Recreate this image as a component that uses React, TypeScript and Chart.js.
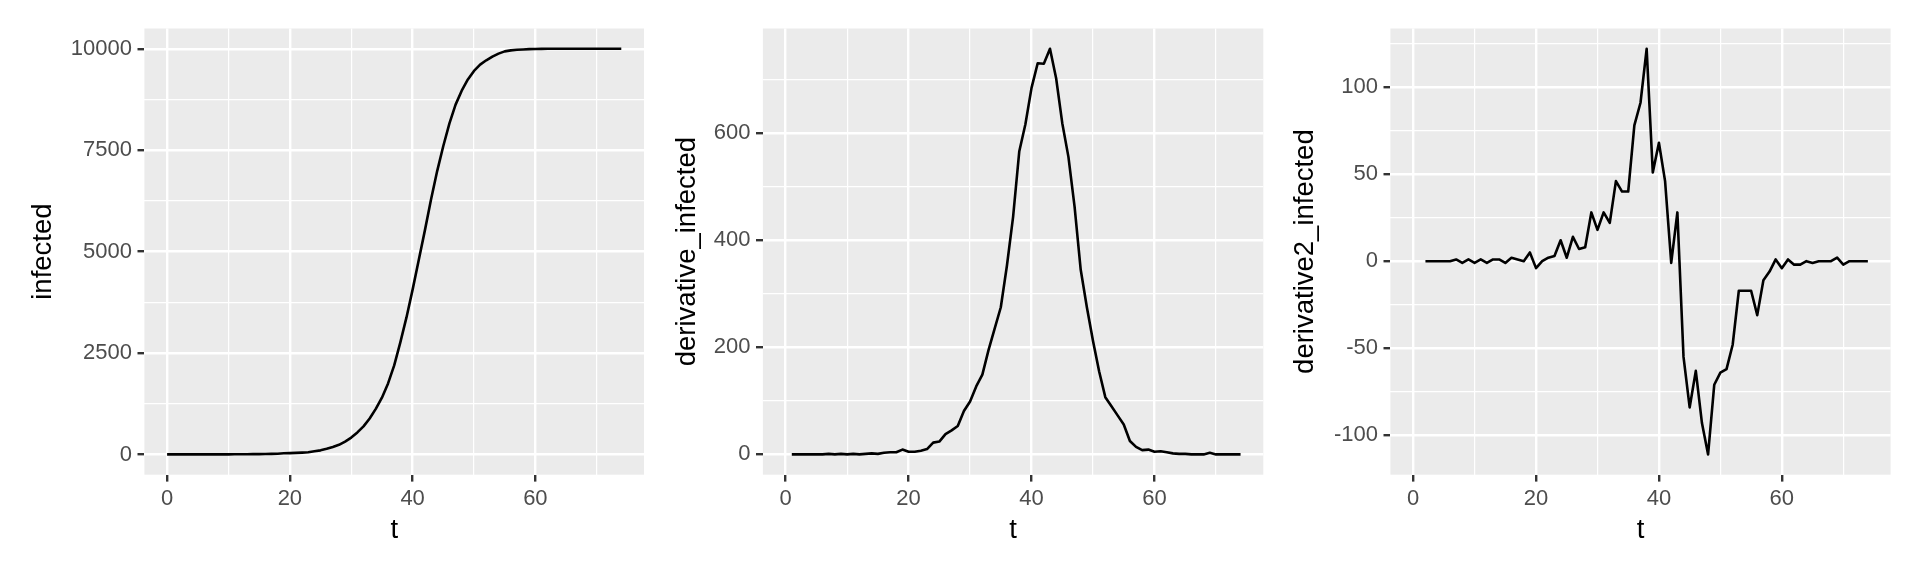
import React, { useEffect, useRef } from 'react';
import { Chart, registerables } from 'chart.js';

Chart.register(...registerables);

// ---------- data ----------
const t = [
  0, 1, 2, 3, 4, 5, 6, 7, 8, 9, 10, 11, 12, 13, 14, 15, 16, 17, 18, 19,
  20, 21, 22, 23, 24, 25, 26, 27, 28, 29, 30, 31, 32, 33, 34, 35, 36, 37, 38, 39,
  40, 41, 42, 43, 44, 45, 46, 47, 48, 49, 50, 51, 52, 53, 54, 55, 56, 57, 58, 59,
  60, 61, 62, 63, 64, 65, 66, 67, 68, 69, 70, 71, 72, 73, 74,
];

// t = 0..74
const infected = [
  1, 1, 1, 1, 1, 1, 1, 2, 2, 3, 3, 4, 4, 5, 7, 8, 11, 15, 19, 28,
  33, 38, 45, 55, 77, 101, 139, 184, 237, 318, 417, 544, 693, 888, 1123, 1398, 1751, 2195, 2761, 3378,
  4063, 4794, 5524, 6282, 6985, 7604, 8160, 8623, 8968, 9243, 9455, 9610, 9717, 9807, 9880, 9936, 9961, 9975, 9983, 9991,
  9995, 9998, 9999, 10000, 10000, 10000, 10000, 10000, 10000, 10000, 10000, 10000, 10000, 10000, 10000,
];

// t = 1..74
const derivativeInfected = [
  0, 0, 0, 0, 0, 0, 1, 0, 1, 0,
  1, 0, 1, 2, 1, 3, 4, 4, 9, 5,
  5, 7, 10, 22, 24, 38, 45, 53, 81, 99,
  127, 149, 195, 235, 275, 353, 444, 566, 617, 685,
  731, 730, 758, 703, 619, 556, 463, 345, 275, 212,
  155, 107, 90, 73, 56, 25, 14, 8, 9, 5,
  6, 4, 2, 1, 1, 0, 0, 0, 3, 0,
  0, 0, 0, 0,
];

// t = 2..74
const derivative2Infected = [
  0, 0, 0, 0, 0, 1, -1, 1, -1, 1,
  -1, 1, 1, -1, 2, 1, 0, 5, -4, 0,
  2, 3, 12, 2, 14, 7, 8, 28, 18, 28,
  22, 46, 40, 40, 78, 91, 122, 51, 68, 46,
  -1, 28, -55, -84, -63, -93, -111, -71, -64, -62,
  -48, -17, -17, -17, -31, -11, -6, 1, -4, 1,
  -2, -2, 0, -1, 0, 0, 0, 2, -2, 0,
  0, 0, 0,
];

const X_MAJOR = [0, 20, 40, 60];
const X_MINOR = [10, 30, 50, 70];

const Y1_MAJOR = [0, 2500, 5000, 7500, 10000];
const Y1_MINOR = [1250, 3750, 6250, 8750];
const Y2_MAJOR = [0, 200, 400, 600];
const Y2_MINOR = [100, 300, 500, 700];
const Y3_MAJOR = [-100, -50, 0, 50, 100];
const Y3_MINOR = [-75, -25, 25, 75, 125];

// ---------- styling ----------
const FONT = "'Liberation Sans', Arial, Helvetica, sans-serif";
const TICK_FONT_SIZE = 22;
const TITLE_FONT_SIZE = 27.5;
const MAJOR_W = 2.4;
const MINOR_W = 1.2;
const LINE_W = 2.6;
const TICK_LEN = 6.9;
const CANVAS_H = 576;
const PLOT_TOP = 28.5;
const X_AXIS_H = 101.3;

const bgPlugin = {
  id: 'panelBg',
  beforeDraw(chart: any) {
    const { ctx, chartArea } = chart;
    if (!chartArea) return;
    ctx.save();
    ctx.fillStyle = '#EBEBEB';
    ctx.fillRect(chartArea.left, chartArea.top, chartArea.right - chartArea.left, chartArea.bottom - chartArea.top);
    ctx.restore();
  },
};

function expand(vals: number[]) {
  const lo = Math.min(...vals);
  const hi = Math.max(...vals);
  const pad = (hi - lo) * 0.05;
  return [lo - pad, hi + pad];
}

type PanelProps = {
  xs: number[];
  ys: number[];
  yTitle: string;
  yMajor: number[];
  yMinor: number[];
  left: number;
  width: number;
  yAxisW: number;
  rightPad: number;
  titlePad: number;
};

function Panel(p: PanelProps) {
  const ref = useRef<HTMLCanvasElement | null>(null);

  useEffect(() => {
    if (!ref.current) return;
    const [xMin, xMax] = expand(t);
    const [yMin, yMax] = expand(p.ys);
    const xAll = [...X_MAJOR, ...X_MINOR].sort((a, b) => a - b);
    const yAll = [...p.yMajor, ...p.yMinor].sort((a, b) => a - b);
    const isMajorX = (v: number) => X_MAJOR.includes(v);
    const isMajorY = (v: number) => p.yMajor.includes(v);

    const chart = new Chart(ref.current, {
      type: 'line',
      data: {
        datasets: [
          {
            data: p.xs.map((x, i) => ({ x, y: p.ys[i] })),
            borderColor: '#000000',
            borderWidth: LINE_W,
            pointRadius: 0,
            pointHoverRadius: 0,
            tension: 0,
            fill: false,
            borderJoinStyle: 'round',
            borderCapStyle: 'butt',
          },
        ],
      },
      options: {
        animation: false,
        responsive: false,
        maintainAspectRatio: false,
        devicePixelRatio: 1,
        layout: { padding: { top: PLOT_TOP, right: p.rightPad, bottom: 0, left: 0 } },
        plugins: { legend: { display: false }, tooltip: { enabled: false } },
        events: [],
        scales: {
          x: {
            type: 'linear',
            min: xMin,
            max: xMax,
            bounds: 'data',
            afterBuildTicks: (s: any) => {
              s.ticks = xAll.map((value) => ({ value }));
            },
            afterFit: (s: any) => {
              s.height = X_AXIS_H;
            },
            ticks: {
              autoSkip: false,
              maxRotation: 0,
              minRotation: 0,
              padding: 4.2,
              color: '#4D4D4D',
              font: { family: FONT, size: TICK_FONT_SIZE, lineHeight: 1.2 },
              callback: (v: any) => (isMajorX(Number(v)) ? String(v) : ''),
            },
            grid: {
              color: '#FFFFFF',
              lineWidth: (c: any) => (isMajorX(c.tick?.value) ? MAJOR_W : MINOR_W),
              drawTicks: true,
              tickLength: TICK_LEN,
              tickWidth: MAJOR_W,
              tickColor: (c: any) => (isMajorX(c.tick?.value) ? '#333333' : 'rgba(0,0,0,0)'),
            },
            border: { display: false },
            title: {
              display: true,
              text: 't',
              color: '#000000',
              font: { family: FONT, size: TITLE_FONT_SIZE, lineHeight: 1.2 },
              padding: { top: 0, bottom: 29 },
            },
          },
          y: {
            type: 'linear',
            min: yMin,
            max: yMax,
            bounds: 'data',
            afterBuildTicks: (s: any) => {
              s.ticks = yAll.map((value) => ({ value }));
            },
            afterFit: (s: any) => {
              s.width = p.yAxisW;
            },
            ticks: {
              autoSkip: false,
              padding: 5.5,
              color: '#4D4D4D',
              font: { family: FONT, size: TICK_FONT_SIZE, lineHeight: 1.2 },
              callback: (v: any) => (isMajorY(Number(v)) ? String(v) : ''),
            },
            grid: {
              color: '#FFFFFF',
              lineWidth: (c: any) => (isMajorY(c.tick?.value) ? MAJOR_W : MINOR_W),
              drawTicks: true,
              tickLength: TICK_LEN,
              tickWidth: MAJOR_W,
              tickColor: (c: any) => (isMajorY(c.tick?.value) ? '#333333' : 'rgba(0,0,0,0)'),
            },
            border: { display: false },
            title: {
              display: true,
              text: p.yTitle,
              color: '#000000',
              font: { family: FONT, size: TITLE_FONT_SIZE, lineHeight: 1.2 },
              padding: { top: p.titlePad, bottom: 0 },
            },
          },
        },
      },
      plugins: [bgPlugin],
    } as any);

    return () => chart.destroy();
  }, []);

  return (
    <canvas
      ref={ref}
      width={p.width}
      height={CANVAS_H}
      style={{ position: 'absolute', left: p.left, top: 0, width: p.width, height: CANVAS_H }}
    />
  );
}

export default function App() {
  return (
    <div
      style={{
        position: 'absolute',
        left: 0,
        top: 0,
        width: 1920,
        height: 576,
        background: '#FFFFFF',
        overflow: 'hidden',
      }}
    >
      <Panel
        xs={t}
        ys={infected}
        yTitle="infected"
        yMajor={Y1_MAJOR}
        yMinor={Y1_MINOR}
        left={0}
        width={660}
        yAxisW={144.4}
        rightPad={16}
        titlePad={27.3}
      />
      <Panel
        xs={t.slice(1)}
        ys={derivativeInfected}
        yTitle="derivative_infected"
        yMajor={Y2_MAJOR}
        yMinor={Y2_MINOR}
        left={660}
        width={620}
        yAxisW={102.9}
        rightPad={16.7}
        titlePad={11}
      />
      <Panel
        xs={t.slice(2)}
        ys={derivative2Infected}
        yTitle="derivative2_infected"
        yMajor={Y3_MAJOR}
        yMinor={Y3_MINOR}
        left={1280}
        width={640}
        yAxisW={110.4}
        rightPad={29.4}
        titlePad={8.5}
      />
    </div>
  );
}
